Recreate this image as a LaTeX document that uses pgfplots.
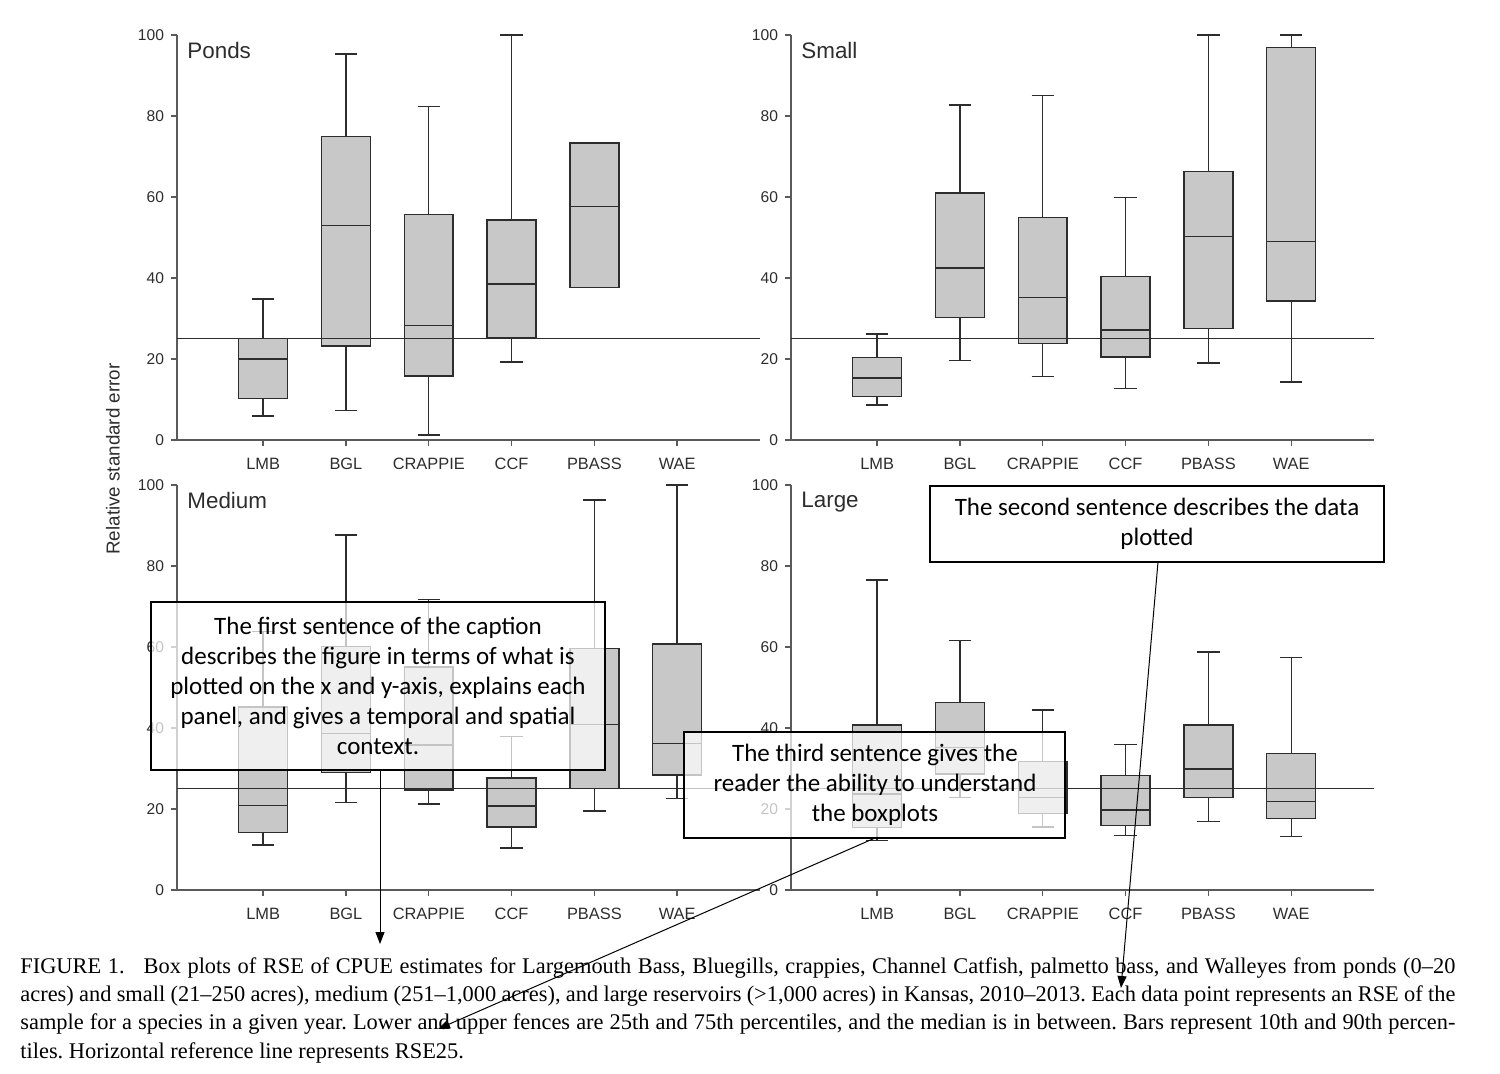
\documentclass[border=0pt]{standalone}
\usepackage{fontspec}
\setmainfont{Liberation Sans}
\newfontfamily\capfont{Liberation Serif}
\newfontfamily\annfont{Carlito}
\usepackage{pgfplots}
\pgfplotsset{compat=1.18}
\usepgfplotslibrary{statistics}
\usetikzlibrary{arrows.meta}

\definecolor{boxfill}{RGB}{200,200,200}
\definecolor{boxedge}{RGB}{45,45,45}
\definecolor{axisgray}{RGB}{90,90,90}
\definecolor{labelgray}{RGB}{45,45,45}

\pgfplotsset{
  panel/.style={
    scale only axis, width=291.5pt, height=202.5pt, anchor=south west,
    xmin=-0.04, xmax=7, ymin=0, ymax=100,
    axis x line=bottom, axis y line=left,
    axis line style={-, draw=axisgray, line width=0.7pt},
    xtick={1,...,6}, xticklabels={LMB,BGL,CRAPPIE,CCF,PBASS,WAE},
    ytick={0,20,...,100},
    tick align=outside, major tick length=3pt,
    tick style={draw=axisgray, line width=0.7pt},
    x tick label style={font=\fontsize{8.2pt}{10pt}\selectfont, text=labelgray, yshift=-2.5pt},
    y tick label style={font=\fontsize{7.8pt}{9pt}\selectfont, text=labelgray},
    /pgf/number format/assume math mode=true,
    boxplot/draw direction=y,
    clip=false,
  }
}

% draw position, lower whisker, lower quartile, median, upper quartile, upper whisker
\newcommand{\bx}[6]{%
  \addplot[boxplot prepared={draw position=#1, lower whisker=#2,
    lower quartile=#3, median=#4, upper quartile=#5, upper whisker=#6,
    box extend=0.59, whisker extend=0.27},
    draw=boxedge, fill=boxfill, line width=0.7pt] coordinates {};}
\newcommand{\rse}{\addplot[draw=boxedge, line width=0.65pt] coordinates {(-0.04,25) (7,25)};}
\newcommand{\ptitle}[1]{\node[anchor=north west, inner sep=0pt, text=labelgray,
  font=\fontsize{11.2pt}{13pt}\selectfont, xshift=5pt, yshift=-3.5pt] at (rel axis cs:0,1) {#1};}

\begin{document}
\begin{tikzpicture}
\useasboundingbox (0,0) rectangle (750pt,-536.5pt);

% Ponds
\begin{axis}[panel, at={(88.5pt,-220pt)}]
\bx{1}{5.9}{10.3}{20.0}{25.0}{34.8}
\bx{2}{7.3}{23.2}{53.0}{74.9}{95.3}
\bx{3}{1.2}{15.8}{28.3}{55.7}{82.4}
\bx{4}{19.3}{25.2}{38.5}{54.3}{100}
\bx{5}{37.6}{37.6}{57.7}{73.3}{73.3}
\rse
\ptitle{Ponds}
\end{axis}

% Small
\begin{axis}[panel, at={(395.5pt,-220pt)}]
\bx{1}{8.6}{10.8}{15.3}{20.3}{26.2}
\bx{2}{19.7}{30.3}{42.5}{61.0}{82.7}
\bx{3}{15.7}{23.8}{35.2}{55.0}{85.0}
\bx{4}{12.7}{20.5}{27.2}{40.4}{59.9}
\bx{5}{19.0}{27.6}{50.2}{66.3}{100}
\bx{6}{14.3}{34.3}{49.0}{96.9}{100}
\rse
\ptitle{Small}
\end{axis}

% Medium
\begin{axis}[panel, at={(88.5pt,-445pt)}]
\bx{1}{11.1}{14.2}{20.8}{45.2}{63.8}
\bx{2}{21.6}{29.0}{38.7}{60.2}{87.7}
\bx{3}{21.2}{24.7}{35.8}{55.1}{71.8}
\bx{4}{10.4}{15.6}{20.7}{27.7}{37.9}
\bx{5}{19.5}{25.1}{40.9}{59.7}{96.3}
\bx{6}{22.6}{28.4}{36.2}{60.7}{100}
\rse
\ptitle{Medium}
\end{axis}

% Large
\begin{axis}[panel, at={(395.5pt,-445pt)}]
\bx{1}{12.3}{15.4}{23.7}{40.7}{76.5}
\bx{2}{22.9}{28.6}{35.2}{46.3}{61.6}
\bx{3}{15.6}{18.9}{22.8}{31.7}{44.4}
\bx{4}{13.4}{16.0}{19.8}{28.3}{36.0}
\bx{5}{16.9}{22.9}{29.9}{40.7}{58.8}
\bx{6}{13.2}{17.7}{21.8}{33.7}{57.4}
\rse
\ptitle{Large}
\end{axis}

\node[rotate=90, text=labelgray, font=\fontsize{9.4pt}{11pt}\selectfont] at (56.5pt,-229.5pt) {Relative standard error};

% annotations, in pixel units
\begin{scope}[x=0.5pt, y=-0.5pt]
\draw[line width=0.75pt, fill=white, fill opacity=0.72] (151,602) rectangle (605,770);
\node[font=\annfont\fontsize{12.5pt}{15pt}\selectfont, align=center, inner sep=0pt] at (378,686)
  {The first sentence of the caption\\describes the figure in terms of what is\\plotted on the x and y-axis, explains each\\panel, and gives a temporal and spatial\\context.};
\draw[line width=0.75pt, fill=white, fill opacity=0.72] (930,486) rectangle (1384,562);
\node[font=\annfont\fontsize{12.5pt}{15pt}\selectfont, align=center, inner sep=0pt] at (1157,524)
  {The second sentence describes the data\\plotted};
\draw[line width=0.75pt, fill=white, fill opacity=0.72] (684,732) rectangle (1065,838);
\node[font=\annfont\fontsize{12.5pt}{15pt}\selectfont, align=center, inner sep=0pt] at (875,785)
  {The third sentence gives the\\reader the ability to understand\\the boxplots};

\draw[line width=0.5pt, -{Triangle[length=6pt,width=4.5pt]}] (380,770) -- (380,944);
\draw[line width=0.5pt, -{Triangle[length=6pt,width=4.5pt]}] (875,838) -- (438,1029);
\draw[line width=0.5pt, -{Triangle[length=6pt,width=4.5pt]}] (1158,562) -- (1121,988);

\node[anchor=north west, inner sep=0pt, align=left,
  font=\capfont\fontsize{11.2pt}{14.15pt}\selectfont\frenchspacing] at (20,957) {%
\hbox to 717.5pt{FIGURE 1.\hspace{0.85em}Box plots of RSE of CPUE estimates for Largemouth Bass, Bluegills, crappies, Channel Catfish, palmetto bass, and Walleyes from ponds (0–20}\\
\hbox to 717.5pt{acres) and small (21–250 acres), medium (251–1,000 acres), and large reservoirs (>1,000 acres) in Kansas, 2010–2013. Each data point represents an RSE of the}\\
\hbox to 717.5pt{sample for a species in a given year. Lower and upper fences are 25th and 75th percentiles, and the median is in between. Bars represent 10th and 90th percen-}\\
tiles. Horizontal reference line represents RSE25.};
\end{scope}
\end{tikzpicture}
\end{document}
